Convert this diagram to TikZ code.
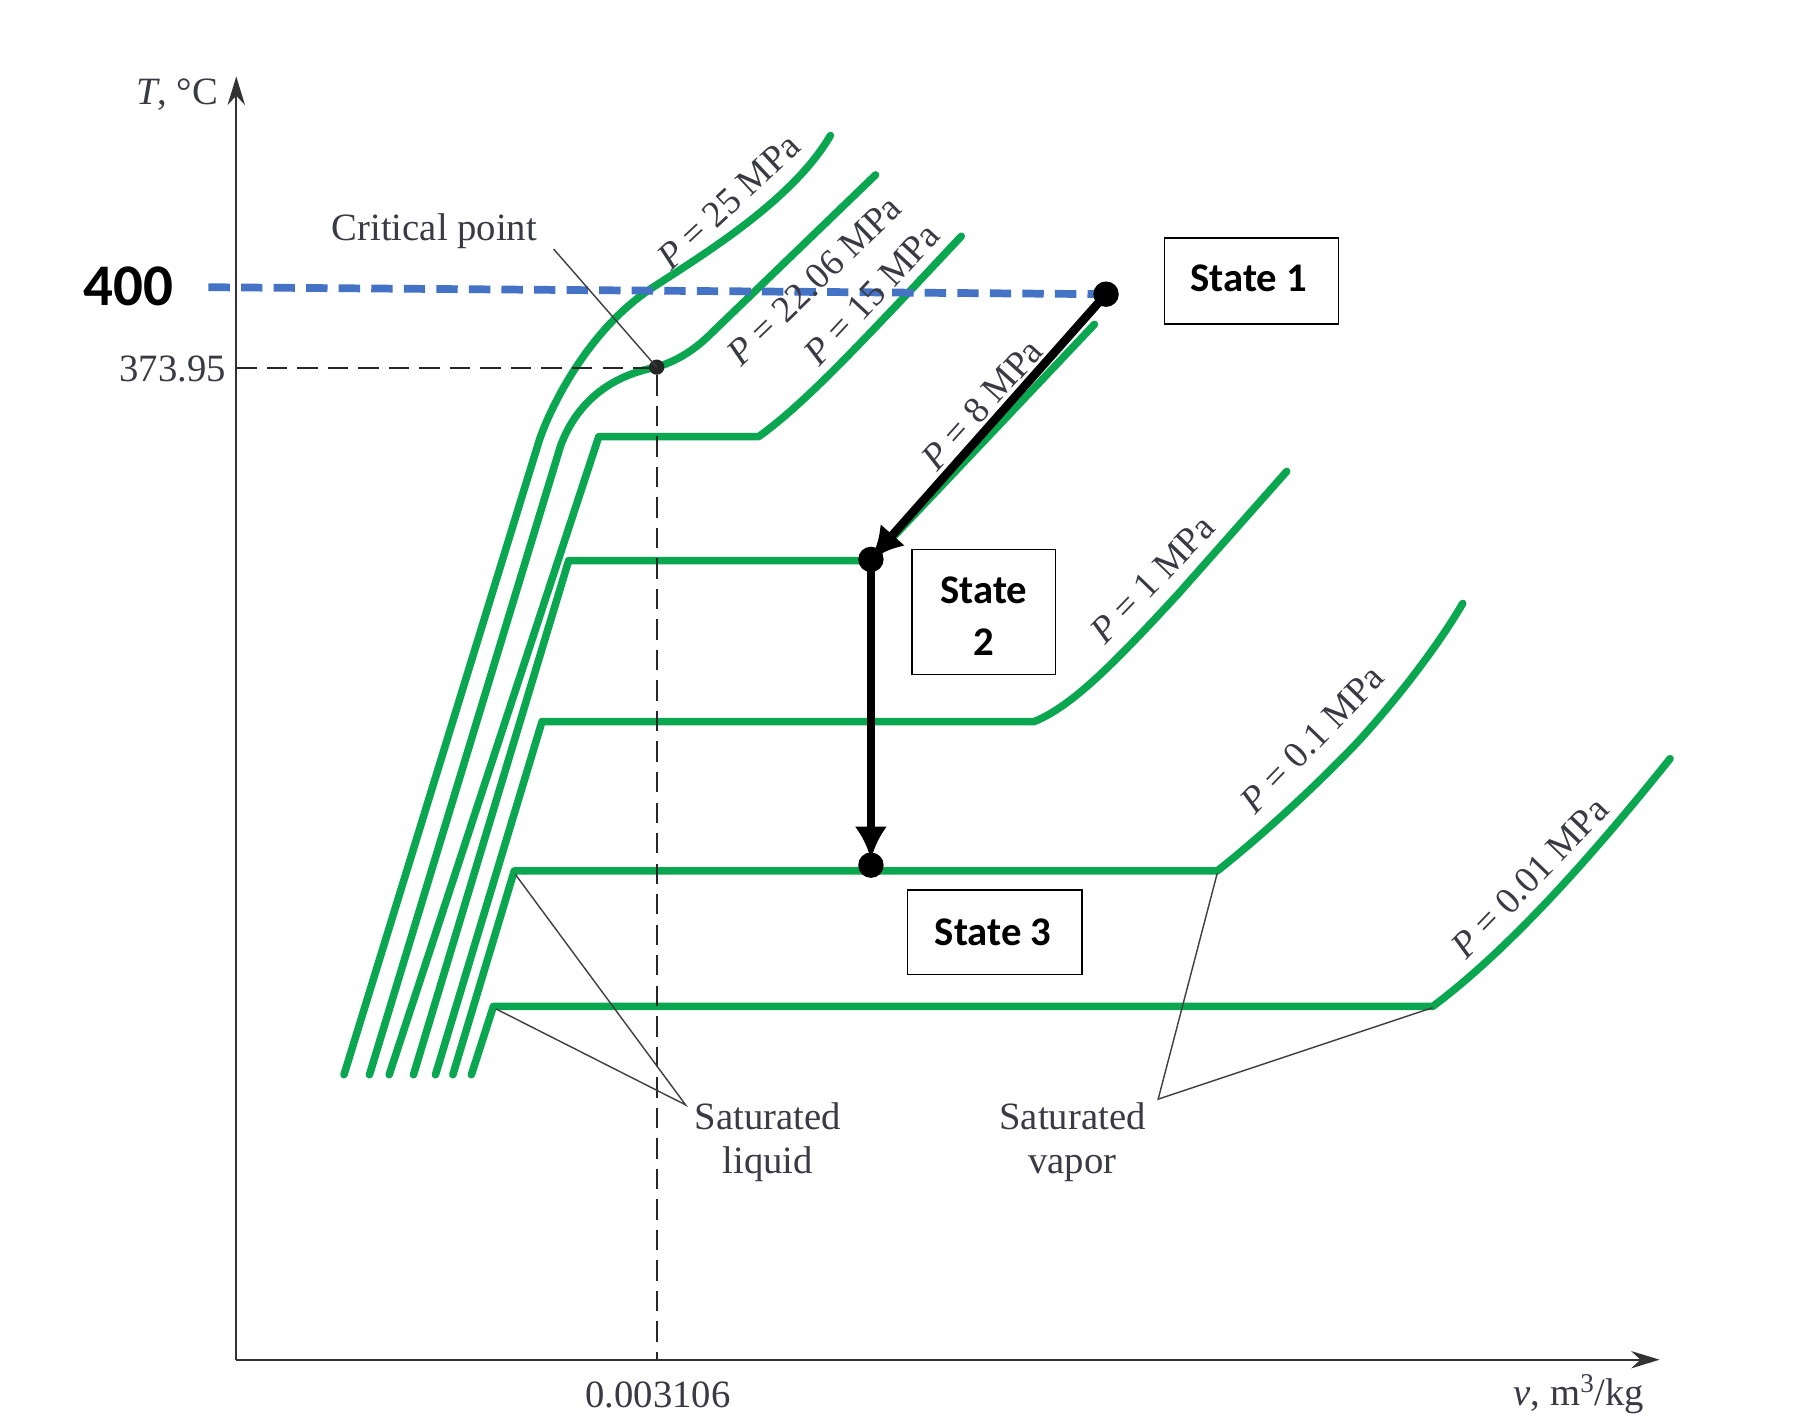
\documentclass[tikz,border=0pt]{standalone}
\usepackage{fontspec}
\setmainfont{Liberation Serif}
\newfontfamily\calib{Carlito}[BoldFont={Carlito Bold}]
\usetikzlibrary{arrows.meta}
\definecolor{curvegreen}{HTML}{0BA650}
\definecolor{dashblue}{HTML}{4472C4}
\definecolor{inktext}{HTML}{3A3A44}
\tikzset{
  curve/.style={draw=curvegreen,line width=3.7pt,line cap=round,line join=round},
  plabel/.style={inktext,font=\fontsize{18.3}{20}\selectfont,inner sep=0pt,anchor=center},
  txt/.style={inktext,font=\fontsize{19}{21}\selectfont,inner sep=0pt,align=center},
  axisline/.style={draw=black!80,line width=1.1pt,-{Stealth[length=14pt,width=8.5pt]}},
  thinline/.style={draw=black!75,line width=0.7pt},
  guide/.style={draw=black!85,line width=0.9pt,dash pattern=on 10pt off 5pt},
  statebox/.style={draw=black,line width=0.7pt,inner sep=0pt,font=\calib\bfseries\fontsize{20}{26}\selectfont,align=center,anchor=north west},
  statedot/.style={circle,fill=black,inner sep=0pt,minimum size=12.5pt},
  process/.style={draw=black,line width=4.2pt,-{Latex[length=16pt,width=16pt]}},
}
\begin{document}
\begin{tikzpicture}[x=0.02cm,y=-0.02cm]
\useasboundingbox (0,0) rectangle (1568,1231);
\fill[white] (0,0) rectangle (1568,1231);
% anchors
\coordinate (O) at (204,1174);
\coordinate (Ytop) at (204,66);
\coordinate (Xend) at (1433,1174);
\coordinate (Tc) at (204,318);
\coordinate (Vc) at (567,1174);
\coordinate (b400) at (180,248);
\coordinate (leadCrit) at (478,215);
\coordinate (sl1) at (445,755);
\coordinate (sl2) at (428,871);
\coordinate (slTip) at (592,954);
\coordinate (sv1) at (1051,754);
\coordinate (sv2) at (1237,870);
\coordinate (svTip) at (1000,949);
% curves
\draw[curve] (297,928) -- (466,379) .. controls (478,345) and (512,280) .. (567,246)
  .. controls (610,218) and (685,172) .. (717,117);
\draw[curve] (319,928) -- (484,385) .. controls (497,350) and (524,325) .. (567,317)
  .. controls (590,310) and (605,297) .. (615,287) -- (756,151);
\draw[curve] (336,928) -- (517,377) -- (655,377)
  .. controls (690,352) and (730,310) .. (785,252) -- (830,204);
\draw[curve] (357,928) -- (491,484) -- (752,484) -- (945,280);
\draw[curve] (376,928) -- (468,623) -- (893,623) .. controls (925,610) and (960,575) .. (1018,512) -- (1111,407);
\draw[curve] (391,928) -- (444,752) -- (1051,752) .. controls (1085,725) and (1130,685) .. (1172,641) .. controls (1205,605) and (1240,560) .. (1263,521);
\draw[curve] (407,928) -- (426,869) -- (1237,869) .. controls (1300,822) and (1370,745) .. (1442,655);
% guides and axes
\draw[guide] (Tc) -- (567,318) -- (Vc);
\draw[axisline] (O) -- (Ytop);
\draw[axisline] (O) -- (Xend);
\draw[draw=dashblue,line width=3.8pt,dash pattern=on 10.5pt off 5.5pt] (b400) -- (955,254);
% leaders
\node[circle,fill=black!85,inner sep=0pt,minimum size=7.5pt] (crit) at (567,317) {};
\draw[thinline] (leadCrit) -- (crit.center);
\draw[thinline] (sl1) -- (slTip) -- (sl2);
\draw[thinline] (sv1) -- (svTip) -- (sv2);
% labels
\node[txt] (tlab) at (153,82) {\textit{T}, °C};
\node[txt] (crittext) at (375,200) {Critical point};
\node[txt] (tval) at (149,319) {373.95};
\node[txt] (vval) at (568,1204) {0.003106};
\node[txt,anchor=east] (vlab) at (1420,1204) {\textit{v}, m\textsuperscript{3}/kg};
\node[txt] (satl) at (663,986) {Saturated\\[0.5pt]liquid};
\node[txt] (satv) at (926,986) {Saturated\\[0.5pt]vapor};
\node[inner sep=0pt,font=\calib\bfseries\fontsize{29}{32}\selectfont] (four) at (111,247) {400};
\node[plabel,rotate=43] (p25) at (629,174) {\textit{P} = 25 MPa};
\node[plabel,rotate=44] (p22) at (703,242) {\textit{P} = 22.06 MPa};
\node[plabel,rotate=47] (p15) at (753,254) {\textit{P} = 15 MPa};
\node[plabel,rotate=48] (p8) at (848,349) {\textit{P} = 8 MPa};
\node[plabel,rotate=46] (p1) at (995,500) {\textit{P} = 1 MPa};
\node[plabel,rotate=46] (p01) at (1133,638) {\textit{P} = 0.1 MPa};
\node[plabel,rotate=46] (p001) at (1321,758) {\textit{P} = 0.01 MPa};
% state boxes
\node[statebox,minimum width=150*0.02cm,minimum height=74*0.02cm] (b1) at (1005,205) {\raisebox{2.8pt}{\kern-2.8pt State 1}};
\node[statebox,minimum width=123.5*0.02cm,minimum height=108*0.02cm] (b2) at (787,474) {\rule{0pt}{17pt}State\\2};
\node[statebox,minimum width=150.5*0.02cm,minimum height=73*0.02cm] (b3) at (783,768) {\raisebox{0.6pt}{\kern-1.6pt State 3}};
% process path
\node[statedot] (s1) at (955,254) {};
\node[statedot] (s2) at (752,483) {};
\node[statedot] (s3) at (752,747) {};
\draw[process] (s1.center) -- (s2.center);
\draw[process,shorten >=3pt] (s2.center) -- (s3.center);
\end{tikzpicture}
\end{document}
